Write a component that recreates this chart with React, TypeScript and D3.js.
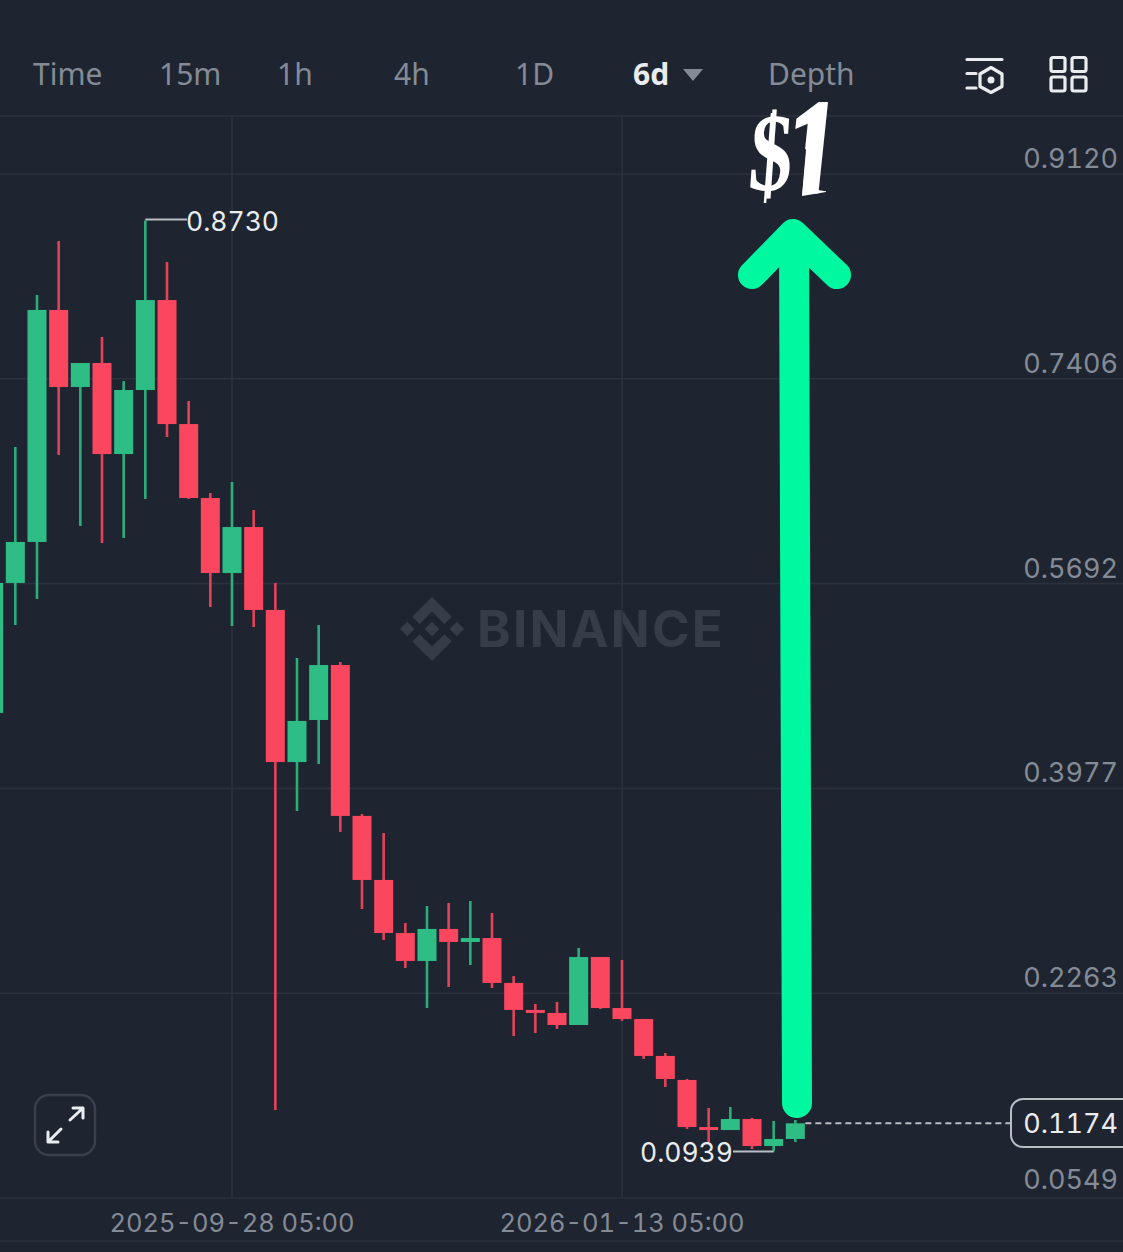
import React from "react";
import * as d3 from "d3";

const timeframes = ["Time", "15m", "1h", "4h", "1D", "6d", "Depth"];
const priceTicks = [0.912, 0.7406, 0.5692, 0.3977, 0.2263, 0.0549];
const dateTicks = ["2025-09-28 05:00", "2026-01-13 05:00"];
const dateTickCandles = [11, 29];
const opens = [0.4609,0.5697,0.604,0.7982,0.7337,0.7538,0.6776,0.7312,0.8065,0.7027,0.6408,0.578,0.6165,0.5471,0.4198,0.455,0.501,0.3747,0.3211,0.2767,0.2533,0.2801,0.2692,0.2725,0.2349,0.2123,0.2098,0.1997,0.2566,0.2139,0.2047,0.1738,0.1537,0.1143,0.1118,0.121,0.0984,0.1043];
const closes = [0.5697,0.604,0.7982,0.7337,0.7538,0.6776,0.7312,0.8065,0.7027,0.6408,0.578,0.6165,0.5471,0.4198,0.4542,0.501,0.3747,0.3211,0.2767,0.2533,0.2801,0.2692,0.2725,0.2349,0.2123,0.2106,0.1997,0.2566,0.2139,0.2047,0.1738,0.1545,0.1143,0.1118,0.121,0.0984,0.1043,0.1174];
const highs = [0.6,0.6835,0.8107,0.8559,0.7538,0.7756,0.7387,0.873,0.8383,0.722,0.645,0.6542,0.6308,0.5697,0.5069,0.5345,0.5035,0.3763,0.3604,0.2851,0.2993,0.3018,0.3035,0.2935,0.2407,0.2173,0.219,0.2642,0.2566,0.2541,0.2047,0.1763,0.1545,0.1302,0.1311,0.1219,0.1194,0.1202];
const lows = [0.44,0.5345,0.5563,0.6768,0.6174,0.6031,0.6073,0.64,0.6919,0.64,0.5496,0.5337,0.5328,0.1286,0.3788,0.4182,0.3613,0.2968,0.2709,0.2474,0.2139,0.2315,0.2499,0.2307,0.1905,0.193,0.1964,0.1997,0.2131,0.2031,0.1713,0.1478,0.1127,0.101,0.1118,0.0959,0.0939,0.1018];
const highLabel = 0.873;
const lowLabel = 0.0939;
const lastPrice = 0.1174;

const BG = "#1f2530";
const GRID = "#2c323d";
const MUTED = "#848b97";
const BRIGHT = "#eaecef";
const UP = "#2ebd85";
const DOWN = "#fb465f";
const FONT = "Inter, 'Noto Sans', sans-serif";
const TNUM = { fontFeatureSettings: "'tnum' 1", fontVariantNumeric: "tabular-nums" } as React.CSSProperties;
const LOGO = "M38.73 53.2L63.3 28.63l24.58 24.58 14.3-14.3L63.3 0 24.42 38.88zM0 63.3l14.3-14.3 14.3 14.3-14.3 14.3zM38.73 73.41L63.3 97.98l24.58-24.58 14.3 14.29-38.88 38.9-38.88-38.88-.01-.01zM97.99 63.31l14.3-14.3 14.3 14.3-14.3 14.3zM77.8 63.3L63.3 48.78 48.8 63.3 63.3 77.8z";

const tfX = [33, 159, 277, 394, 515, 633, 768];

export default function App() {
  const y = d3.scaleLinear().domain([0.0549, 0.912]).range([1198, 174]);
  const x = d3.scaleLinear().domain(dateTickCandles).range([232, 622]);
  const iHigh = highs.indexOf(highLabel);
  const iLow = lows.indexOf(lowLabel);
  const iLast = closes.length - 1;
  return (
    <svg width={1123} height={1252} style={{ position: "absolute", left: 0, top: 0, background: BG }} fontFamily={FONT}>
      <defs>
        <clipPath id="oneClip">
          <path d="M794 95H832L826 192L802 196L806 150L794 130Z" />
        </clipPath>
      </defs>
      <rect width={1123} height={1252} fill={BG} />
      {/* watermark */}
      <g fill="#373d48">
        <path d={LOGO} transform="translate(400,597) scale(0.506)" />
        <text x={477} y={647} fontSize={51} fontWeight={700} letterSpacing={2.2} fontFamily="Inter, sans-serif">BINANCE</text>
      </g>
      {/* grid */}
      <g stroke={GRID} strokeWidth={1.6}>
        <line x1={0} x2={1123} y1={116} y2={116} />
        <line x1={0} x2={1123} y1={1241} y2={1241} />
        {priceTicks.map((p) => (
          <line key={p} x1={0} x2={1123} y1={y(p)} y2={y(p)} />
        ))}
        {dateTickCandles.map((d) => (
          <line key={d} x1={x(d)} x2={x(d)} y1={116} y2={1198} />
        ))}
      </g>
      {/* header */}
      <g fontSize={30} fill={MUTED} fontFamily="'Noto Sans', sans-serif">
        {timeframes.map((t, i) => (
          <text key={t} x={tfX[i]} y={85} fill={t === "6d" ? BRIGHT : MUTED} fontWeight={t === "6d" ? 700 : 400}>{t}</text>
        ))}
      </g>
      <path d="M683 69H703L693 81Z" fill={MUTED} strokeLinejoin="round" />
      <g stroke={BRIGHT} strokeWidth={3.2} fill="none" strokeLinecap="round" strokeLinejoin="round">
        <path d="M967 59.500H1002M967 73.500H976M967 88H976" />
        <path d="M991 67.500L1002 74V86.500L991 92.500L980 86.500V74Z" />
        <rect x={1051} y={57.5} width={14} height={14} rx={2} />
        <rect x={1072} y={57.5} width={14} height={14} rx={2} />
        <rect x={1051} y={77} width={14} height={14} rx={2} />
        <rect x={1072} y={77} width={14} height={14} rx={2} />
      </g>
      <circle cx={991} cy={80} r={3.5} fill={BRIGHT} />
      {/* candles */}
      <g>
        {opens.map((o, i) => {
          const c = closes[i];
          const col = c >= o ? UP : DOWN;
          const top = y(Math.max(o, c));
          const bot = y(Math.min(o, c));
          return (
            <g key={i}>
              <line x1={x(i)} x2={x(i)} y1={y(highs[i])} y2={y(lows[i])} stroke={col} strokeWidth={2.6} opacity={0.9} />
              <rect x={x(i) - 9.5} width={19} y={top} height={Math.max(bot - top, 3)} fill={col} />
            </g>
          );
        })}
      </g>
      {/* high / low labels */}
      <g stroke="#b9bdc4" strokeWidth={2} fill="none">
        <line x1={x(iHigh)} x2={187} y1={y(highLabel) - 1} y2={y(highLabel) - 1} />
        <line x1={x(iLow)} x2={733} y1={y(lowLabel)} y2={y(lowLabel)} />
      </g>
      <g fontSize={26.5} fill={BRIGHT} style={TNUM}>
        <text x={186} y={231}>{highLabel.toFixed(4)}</text>
        <text x={733} y={1162} textAnchor="end">{lowLabel.toFixed(4)}</text>
      </g>
      {/* last price */}
      <line x1={x(iLast) + 10} x2={1011} y1={y(lastPrice)} y2={y(lastPrice)} stroke="#b9bdc4" strokeWidth={2} strokeDasharray="6 4" />
      <rect x={1011} y={1099} width={130} height={48} rx={12} fill={BG} stroke="#b9bdc4" strokeWidth={2} />
      {/* price axis */}
      <g fontSize={27} fill={MUTED} textAnchor="end" style={TNUM}>
        {priceTicks.map((p) => (
          <text key={p} x={1118} y={y(p) - (p === 0.0549 ? 9 : 6)}>{p.toFixed(4)}</text>
        ))}
      </g>
      <text x={1118} y={1133} fontSize={27} fill={BRIGHT} textAnchor="end" style={TNUM}>{lastPrice.toFixed(4)}</text>
      {/* date axis */}
      <g fontSize={25.5} fill={MUTED} textAnchor="middle" style={TNUM}>
        {dateTickCandles.map((d, i) => (
          <text key={d} x={x(d)} y={1232}>{dateTicks[i]}</text>
        ))}
      </g>
      {/* expand button */}
      <rect x={35} y={1095} width={60} height={60} rx={14} fill="none" stroke="#3a404b" strokeWidth={2.4} />
      <g stroke={BRIGHT} strokeWidth={3} fill="none" strokeLinecap="round" strokeLinejoin="round">
        <path d="M70 1120L83 1108M73 1108H83V1118" />
        <path d="M61 1129L48 1142M48 1132V1142H58" />
      </g>
      {/* annotation */}
      <path d="M797 1103L794 240" stroke="#00f9a0" strokeWidth={30} strokeLinecap="round" fill="none" />
      <path d="M752 275L793 233L837 275" stroke="#00f9a0" strokeWidth={28} strokeLinecap="round" strokeLinejoin="round" fill="none" />
      <g fill="#ffffff" fontFamily="'Liberation Serif', serif" fontWeight={700}>
        <text transform="translate(747,190) skewX(-4) scale(0.82,1.05)" fontSize={106}>$</text>
        <line x1={772} y1={113} x2={765} y2={203} stroke="#ffffff" strokeWidth={2.5} />
        <g clipPath="url(#oneClip)">
          <text transform="translate(781,200) skewX(-6) scale(1.05,1.45)" fontSize={100} stroke="#ffffff" strokeWidth={3}>1</text>
        </g>
      </g>
    </svg>
  );
}
